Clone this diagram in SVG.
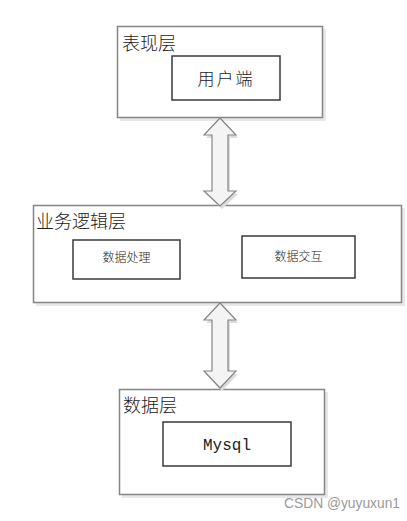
<svg xmlns="http://www.w3.org/2000/svg" width="407" height="521" viewBox="0 0 407 521">
  <defs>
    <style>
      .layer{fill:#ffffff;stroke:#858585;stroke-width:1.5}
      .shadow{fill:#e8e8e8;stroke:none}
      .inner{fill:#ffffff;stroke:#3a3a3a;stroke-width:1.5}
      .lbl{font-family:"Noto Sans CJK SC","Liberation Sans",sans-serif;font-size:18px;font-weight:300;fill:#222}
      .cap{font-family:"Noto Sans CJK SC","Liberation Sans",sans-serif;font-size:17px;font-weight:300;fill:#222;text-anchor:middle}
      .small{font-family:"Noto Sans CJK SC","Liberation Serif",serif;font-size:12px;font-weight:300;fill:#222;text-anchor:middle}
      .mono{font-family:"Liberation Mono",monospace;font-size:16px;fill:#222;text-anchor:middle}
      .arrow{fill:#f4f4f4;stroke:#858585;stroke-width:1.2;stroke-linejoin:miter}
      .ashadow{fill:#dcdcdc;stroke:none}
    </style>
  </defs>
  <rect width="407" height="521" fill="#ffffff"/>

  <g id="presentation-layer">
    <rect class="shadow" x="120" y="29" width="206" height="92"/>
    <rect class="layer" x="117.5" y="26.5" width="205" height="91"/>
    <text class="lbl" x="122" y="50">表现层</text>
  </g>
  <g id="client">
    <rect class="inner" x="172" y="56" width="108" height="44"/>
    <text class="cap" x="226" y="85" letter-spacing="2">用户端</text>
  </g>

  <g id="business-layer">
    <rect class="shadow" x="36" y="208" width="369" height="98"/>
    <rect class="layer" x="33.5" y="205.5" width="368" height="97"/>
    <text class="lbl" x="36" y="228">业务逻辑层</text>
  </g>
  <g id="data-processing">
    <rect class="inner" x="73" y="240" width="107" height="39"/>
    <text class="small" x="126.5" y="262">数据处理</text>
  </g>
  <g id="data-exchange">
    <rect class="inner" x="242" y="236" width="113" height="42"/>
    <text class="small" x="298.5" y="261">数据交互</text>
  </g>

  <g id="data-layer">
    <rect class="shadow" x="122" y="392" width="206" height="106"/>
    <rect class="layer" x="119.5" y="389.5" width="205" height="105"/>
    <text class="lbl" x="123" y="412">数据层</text>
  </g>
  <g id="mysql">
    <rect class="inner" x="163" y="422" width="128" height="44"/>
    <text class="mono" x="227" y="450">Mysql</text>
  </g>

  <g id="connectors">
    <polygon class="ashadow" points="222,121 238,138 230,138 230,194 238,194 222,209 206,194 214,194 214,138 206,138"/>
    <polygon class="arrow" points="220,118 236,135 228,135 228,191 236,191 220,206 204,191 212,191 212,135 204,135"/>
    <polygon class="ashadow" points="222,306 238,323 230,323 230,374 238,374 222,391 206,374 214,374 214,323 206,323"/>
    <polygon class="arrow" points="220,303 236,320 228,320 228,371 236,371 220,388 204,371 212,371 212,320 204,320"/>
  </g>

  <text x="284" y="508" font-family="Liberation Sans, sans-serif" font-size="14" fill="#9a9a9a" textLength="116" lengthAdjust="spacingAndGlyphs">CSDN @yuyuxun1</text>
</svg>
